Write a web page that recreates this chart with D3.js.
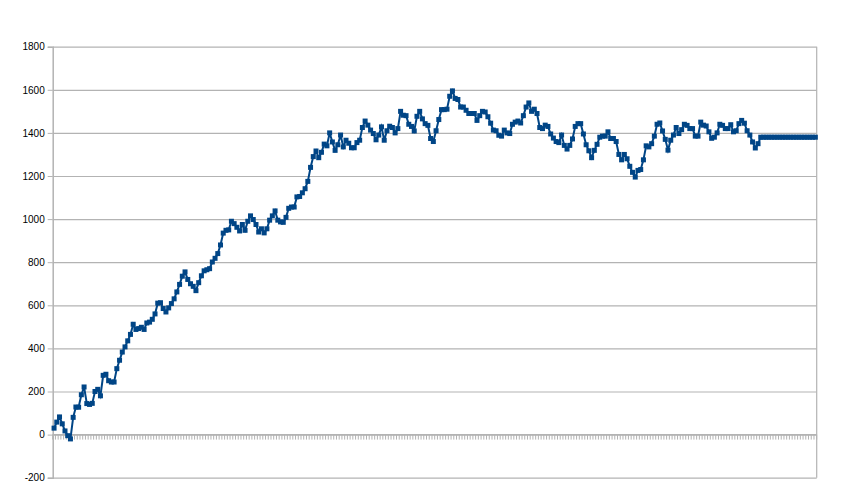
<!DOCTYPE html>
<html>
<head>
<meta charset="utf-8">
<script src="https://cdn.jsdelivr.net/npm/d3@7"></script>
<style>
  body { margin: 0; background: #fff; }
  text { font-family: "Liberation Sans", Arial, sans-serif; }
</style>
</head>
<body>
<svg id="chart" width="854" height="492"></svg>
<script>
// series values, one per category
const values = [
  30, 58, 82, 50, 17, -5, -20, 80, 128, 127, 185, 221, 144, 140, 145, 200, 210, 180, 275, 280,
  250, 244, 244, 306, 345, 383, 407, 435, 465, 512, 488, 492, 498, 488, 518, 522, 535, 560, 610, 612,
  585, 569, 588, 608, 630, 662, 697, 735, 755, 720, 700, 688, 668, 705, 737, 760, 765, 770, 801, 818,
  840, 880, 935, 948, 950, 990, 979, 962, 945, 975, 948, 990, 1015, 998, 975, 940, 955, 936, 955, 995,
  1015, 1038, 995, 987, 985, 1008, 1050, 1056, 1056, 1103, 1105, 1122, 1141, 1175, 1240, 1290, 1316, 1285, 1310, 1348,
  1340, 1400, 1358, 1319, 1345, 1390, 1335, 1366, 1352, 1331, 1331, 1355, 1366, 1425, 1455, 1436, 1413, 1397, 1368, 1390,
  1428, 1366, 1410, 1431, 1425, 1400, 1420, 1500, 1482, 1480, 1440, 1430, 1409, 1477, 1500, 1465, 1443, 1435, 1374, 1360,
  1410, 1462, 1508, 1508, 1510, 1570, 1595, 1560, 1555, 1520, 1520, 1505, 1490, 1490, 1490, 1458, 1480, 1500, 1497, 1475,
  1445, 1413, 1410, 1389, 1385, 1413, 1400, 1397, 1440, 1450, 1455, 1446, 1480, 1520, 1539, 1500, 1510, 1490, 1425, 1420,
  1436, 1430, 1395, 1376, 1360, 1355, 1390, 1342, 1325, 1342, 1372, 1430, 1443, 1443, 1395, 1345, 1317, 1285, 1319, 1347,
  1380, 1385, 1385, 1405, 1374, 1374, 1360, 1300, 1275, 1300, 1280, 1245, 1217, 1195, 1226, 1230, 1275, 1340, 1335, 1350,
  1385, 1440, 1446, 1409, 1370, 1320, 1366, 1390, 1425, 1397, 1415, 1440, 1435, 1420, 1420, 1385, 1385, 1450, 1436, 1432,
  1405, 1375, 1380, 1400, 1440, 1435, 1420, 1420, 1438, 1405, 1410, 1443, 1458, 1445, 1410, 1390, 1358, 1330, 1350, 1380,
  1380, 1380, 1380, 1380, 1380, 1380, 1380, 1380, 1380, 1380, 1380, 1380, 1380, 1380, 1380, 1380, 1380, 1380, 1380, 1380
];
const categories = values.map((d, i) => i + 1);
const yTicks = [-200, 0, 200, 400, 600, 800, 1000, 1200, 1400, 1600, 1800];

const width = 854, height = 492;
const margin = { top: 46.7, right: 37.3, bottom: 14.3, left: 52.7 };
const grey = "#b3b3b3";
const blue = "#004586";

const svg = d3.select("#chart");

const x = d3.scaleBand()
    .domain(categories)
    .range([margin.left, width - margin.right]);

const y = d3.scaleLinear()
    .domain([-200, 1800])
    .range([height - margin.bottom, margin.top]);

// horizontal grid
svg.append("g")
    .attr("transform", `translate(${margin.left},0)`)
    .call(d3.axisLeft(y).tickValues(yTicks).tickSize(-(width - margin.left - margin.right)).tickFormat(""))
    .call(g => g.select(".domain").remove())
    .call(g => g.selectAll(".tick line").attr("stroke", grey).attr("stroke-width", 1.2));

// right border line
svg.append("line")
    .attr("x1", width - margin.right).attr("x2", width - margin.right)
    .attr("y1", margin.top).attr("y2", height - margin.bottom)
    .attr("stroke", grey).attr("stroke-width", 1.2);

// y axis with labels
svg.append("g")
    .attr("transform", `translate(${margin.left},0)`)
    .call(d3.axisLeft(y).tickValues(yTicks).tickSize(5).tickPadding(3).tickFormat(d => String(d)))
    .call(g => g.select(".domain").attr("stroke", grey).attr("stroke-width", 1.5))
    .call(g => g.selectAll(".tick line").attr("stroke", grey))
    .call(g => g.selectAll(".tick text")
        .attr("fill", "#000")
        .style("font-size", "10px")
        .style("font-family", "'Liberation Sans', Arial, sans-serif"));

// x axis (crosses at 0), ticks at category boundaries, no labels
const xAxisY = y(0);
const tickPos = categories.map(c => x(c)).concat([x.range()[1]]);
const xAxis = svg.append("g").attr("class", "x-axis");
xAxis.selectAll("line.xtick")
    .data(tickPos)
    .enter().append("line")
    .attr("class", "xtick")
    .attr("x1", d => d).attr("x2", d => d)
    .attr("y1", xAxisY).attr("y2", xAxisY + 5)
    .attr("stroke", grey).attr("stroke-width", 1);
xAxis.append("line")
    .attr("x1", margin.left).attr("x2", width - margin.right)
    .attr("y1", xAxisY).attr("y2", xAxisY)
    .attr("stroke", grey).attr("stroke-width", 1.2);

// series line
const line = d3.line()
    .x((d, i) => x(categories[i]) + x.bandwidth() / 2)
    .y(d => y(d));

svg.append("path")
    .datum(values)
    .attr("fill", "none")
    .attr("stroke", blue)
    .attr("stroke-width", 2)
    .attr("d", line);

// square markers
const ms = 5;
svg.append("g")
    .selectAll("rect")
    .data(values)
    .enter().append("rect")
    .attr("x", (d, i) => x(categories[i]) + x.bandwidth() / 2 - ms / 2)
    .attr("y", d => y(d) - ms / 2)
    .attr("width", ms)
    .attr("height", ms)
    .attr("fill", blue);
</script>
</body>
</html>
